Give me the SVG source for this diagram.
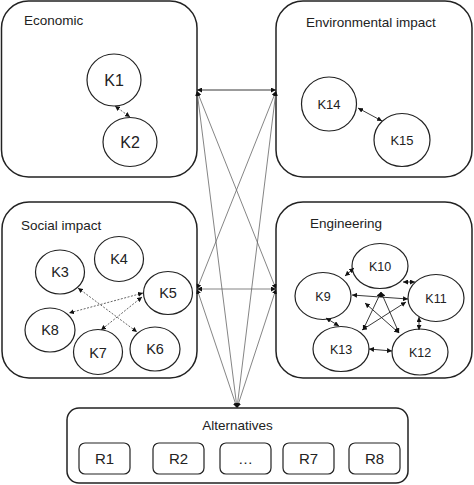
<svg xmlns="http://www.w3.org/2000/svg" width="474" height="485" viewBox="0 0 474 485">
<defs>
<marker id="ah" viewBox="0 0 10 10" refX="10" refY="5" markerWidth="5" markerHeight="5" markerUnits="userSpaceOnUse" orient="auto-start-reverse">
<path d="M0,0 L10,5 L0,10 z" fill="#111"/>
</marker>
<style>
.box{fill:#fff;stroke:#222;stroke-width:1.5}
.kn{fill:#fff;stroke:#222;stroke-width:1.2}
.rb{fill:#fff;stroke:#222;stroke-width:1.2}
.title{font-family:"Liberation Sans",Arial,sans-serif;font-size:13.5px;fill:#222}
.k{font-family:"Liberation Sans",Arial,sans-serif;fill:#222;text-anchor:middle}
.main{stroke:#666;stroke-width:0.8;fill:none;marker-start:url(#ah);marker-end:url(#ah)}
.solid{stroke:#222;stroke-width:0.9;fill:none;marker-start:url(#ah);marker-end:url(#ah)}
.dot{stroke:#666;stroke-width:1;stroke-dasharray:2 1.5;fill:none;marker-start:url(#ah);marker-end:url(#ah)}
</style>
</defs>
<rect width="474" height="485" fill="#fff"/>

<g id="economic">
<rect class="box" x="1.5" y="1" width="195.5" height="176" rx="27"/>
<text class="title" x="24" y="25">Economic</text>
<g id="K1"><ellipse class="kn" cx="114" cy="80" rx="27" ry="26"/><text class="k" x="114" y="86" font-size="16">K1</text></g>
<g id="K2"><ellipse class="kn" cx="130" cy="142" rx="27" ry="24.5"/><text class="k" x="130" y="148" font-size="16">K2</text></g>
</g>

<g id="environmental">
<rect class="box" x="276" y="1" width="196" height="176" rx="27"/>
<text class="title" x="306" y="27">Environmental impact</text>
<g id="K14"><ellipse class="kn" cx="329" cy="104" rx="27.5" ry="27"/><text class="k" x="329" y="109" font-size="13">K14</text></g>
<g id="K15"><ellipse class="kn" cx="402" cy="140" rx="28" ry="26.5"/><text class="k" x="402" y="145" font-size="13">K15</text></g>
</g>

<g id="social">
<rect class="box" x="2" y="202" width="195" height="176" rx="27"/>
<text class="title" x="21" y="230">Social impact</text>
<g id="K3"><ellipse class="kn" cx="60" cy="272" rx="24.5" ry="22"/><text class="k" x="60" y="277" font-size="14.5">K3</text></g>
<g id="K4"><ellipse class="kn" cx="119" cy="259" rx="24.5" ry="22.5"/><text class="k" x="119" y="264" font-size="14.5">K4</text></g>
<g id="K5"><ellipse class="kn" cx="168" cy="293" rx="24.5" ry="21.5"/><text class="k" x="168" y="298" font-size="14.5">K5</text></g>
<g id="K8"><ellipse class="kn" cx="50" cy="330" rx="25" ry="22"/><text class="k" x="50" y="335" font-size="14.5">K8</text></g>
<g id="K7"><ellipse class="kn" cx="98" cy="352" rx="24.5" ry="22.5"/><text class="k" x="98" y="358" font-size="14.5">K7</text></g>
<g id="K6"><ellipse class="kn" cx="155" cy="349" rx="25" ry="22"/><text class="k" x="155" y="354" font-size="14.5">K6</text></g>
</g>

<g id="engineering">
<rect class="box" x="276" y="202" width="196" height="176" rx="27"/>
<text class="title" x="310" y="228">Engineering</text>
<g id="K10"><ellipse class="kn" cx="380" cy="266" rx="28" ry="22.5"/><text class="k" x="380" y="271" font-size="12.5">K10</text></g>
<g id="K9"><ellipse class="kn" cx="323" cy="296" rx="28" ry="23.5"/><text class="k" x="323" y="301" font-size="12.5">K9</text></g>
<g id="K11"><ellipse class="kn" cx="436" cy="298" rx="28" ry="23.5"/><text class="k" x="436" y="303" font-size="12.5">K11</text></g>
<g id="K13"><ellipse class="kn" cx="341" cy="349" rx="28" ry="22.5"/><text class="k" x="341" y="354" font-size="12.5">K13</text></g>
<g id="K12"><ellipse class="kn" cx="420" cy="352" rx="28" ry="23"/><text class="k" x="420" y="357" font-size="12.5">K12</text></g>
</g>

<g id="alternatives">
<rect class="box" x="67" y="408" width="341" height="75" rx="12"/>
<text class="title" x="237.5" y="430" text-anchor="middle" font-size="14">Alternatives</text>
<g id="R1"><rect class="rb" x="79" y="443" width="51" height="31" rx="6"/><text class="k" x="104.5" y="464" font-size="15">R1</text></g>
<g id="R2"><rect class="rb" x="153" y="443" width="51" height="31" rx="6"/><text class="k" x="178.5" y="464" font-size="15">R2</text></g>
<g id="Rdots"><rect class="rb" x="220" y="443" width="51" height="31" rx="6"/><text class="k" x="245.5" y="464" font-size="15">…</text></g>
<g id="R7"><rect class="rb" x="283" y="443" width="51" height="31" rx="6"/><text class="k" x="308.5" y="464" font-size="15">R7</text></g>
<g id="R8"><rect class="rb" x="349" y="443" width="51" height="31" rx="6"/><text class="k" x="374.5" y="464" font-size="15">R8</text></g>
</g>

<g id="connectors">
<line class="solid" x1="197" y1="90" x2="276" y2="90"/>
<line class="main" x1="197" y1="289" x2="276" y2="289" stroke="#999"/>
<line class="main" x1="197" y1="91" x2="276" y2="289"/>
<line class="main" x1="276" y1="91" x2="197" y2="289"/>
<line class="main" x1="197" y1="91" x2="237" y2="408"/>
<line class="main" x1="276" y1="91" x2="237" y2="408"/>
<line class="main" x1="197" y1="289" x2="237" y2="408"/>
<line class="main" x1="276" y1="289" x2="237" y2="408"/>

<line class="dot" x1="115" y1="106" x2="130" y2="117"/>
<line class="solid" x1="358" y1="108" x2="382" y2="121"/>

<line class="dot" x1="78" y1="288" x2="137" y2="332"/>
<line class="dot" x1="143" y1="293" x2="69" y2="313"/>
<line class="dot" x1="142" y1="297" x2="101" y2="330"/>

<line class="solid" x1="345" y1="276" x2="354" y2="268"/>
<line class="solid" x1="403" y1="282" x2="415" y2="282"/>
<line class="solid" x1="352" y1="295" x2="408" y2="299"/>
<line class="solid" x1="419" y1="317" x2="419" y2="330"/>
<line class="solid" x1="369" y1="349" x2="392" y2="351"/>
<line class="solid" x1="326" y1="318" x2="339" y2="326"/>
<line class="solid" x1="381" y1="292" x2="363" y2="330"/>
<line class="solid" x1="381" y1="292" x2="399" y2="333"/>
<line class="solid" x1="365" y1="303" x2="399" y2="333"/>
<line class="solid" x1="406" y1="302" x2="362" y2="330"/>
</g>
</svg>
